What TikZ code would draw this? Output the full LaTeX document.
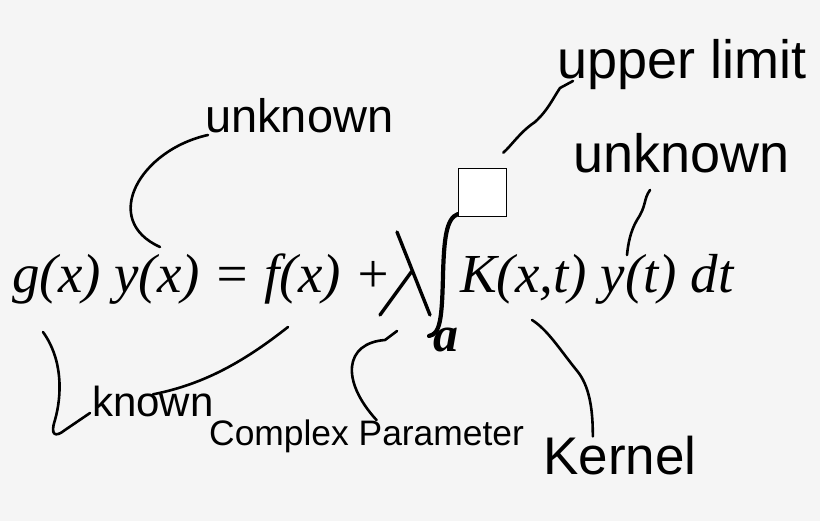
\documentclass[tikz,border=0pt]{standalone}
\usepackage{fontspec}
\setmainfont{Liberation Sans}
\newfontfamily\eqfont{Liberation Serif}
\usetikzlibrary{positioning}
\definecolor{paper}{HTML}{F5F5F5}
\tikzstyle{lbl} = [inner sep=0pt, anchor=base west]
\tikzstyle{eq} = [inner sep=0pt, anchor=base west, font=\eqfont\itshape\fontsize{55}{60}\selectfont]
\tikzstyle{hand} = [line width=2.6pt, line cap=round, line join=round]

\begin{document}
\begin{tikzpicture}[x=1pt, y=-1pt]
        \fill[paper] (0,0) rectangle (820,521);
        \useasboundingbox (0,0) rectangle (820,521);

        % equation
        \node[eq] (lhs) at (12,293) {g(x) y(x) = f(x) +};
        \node[eq] (rhs) at (460,293) {K(x,t) y(t) dt};
        \draw[hand, line width=3.4pt] (397,232) -- (430,315) (380,315) -- (412,271);
        \draw[hand, line width=4.2pt] (458,214) .. controls (446,218) and (444,240) .. (443,275)
            .. controls (442,320) and (440,334) .. (429,336);
        \node[lbl, font=\eqfont\bfseries\itshape\fontsize{50}{52}\selectfont] (lowlim) at (433,352) {a};
        \node[draw, fill=white, line width=1.5pt, minimum size=48pt, inner sep=0pt] (ulim) at (482.5,192.5) {};

        % labels
        \node[lbl, font=\fontsize{47}{50}\selectfont] (unk1) at (205,133) {unknown};
        \node[lbl, font=\fontsize{54}{56}\selectfont] (upper) at (557,79) {upper limit};
        \node[lbl, font=\fontsize{54}{56}\selectfont] (unk2) at (573,173) {unknown};
        \node[lbl, font=\fontsize{42}{44}\selectfont] (known) at (92,417) {known};
        \node[lbl, font=\fontsize{35.4}{38}\selectfont] (cplx) at (209,446) {Complex Parameter};
        \node[lbl, font=\fontsize{53}{56}\selectfont] (kernel) at (543,475) {Kernel};

        \coordinate (yx) at (160,247);
        \coordinate (gx) at (43,332);
        \coordinate (fx) at (288,327);
        \coordinate (lam) at (397,331);
        \coordinate (kxt) at (532,320);
        \coordinate (yt) at (627,255);

        % connectors
        \draw[hand] ([xshift=3pt,yshift=-2pt]unk1.base west) .. controls (140,150) and (100,220) .. (yx);
        \draw[hand] ([xshift=16pt,yshift=-2pt]upper.base west) -- (560,88)
            .. controls (552,100) and (548,110) .. (535,122)
            .. controls (520,132) and (512,145) .. ([xshift=-4pt,yshift=15pt]ulim.north east);
        \draw[hand] ([xshift=77pt,yshift=-17pt]unk2.base west) .. controls (643,200) and (647,205) .. (637,220)
            .. controls (630,232) and (628,245) .. (yt);
        \draw[hand] (gx) .. controls (63,360) and (62,395) .. (55,420)
            .. controls (50,435) and (55,438) .. (65,430) -- ([xshift=-2pt,yshift=4pt]known.base west);
        \draw[hand] (fx) .. controls (240,365) and (200,385) .. ([yshift=-8pt]known.north);
        \draw[hand] ([xshift=10pt]cplx.north) .. controls (340,380) and (345,343) .. (385,340) -- (lam);
        \draw[hand] ([xshift=-27pt]kernel.north) .. controls (593,405) and (588,385) .. (578,372)
            .. controls (560,350) and (548,330) .. (kxt);
\end{tikzpicture}
\end{document}
